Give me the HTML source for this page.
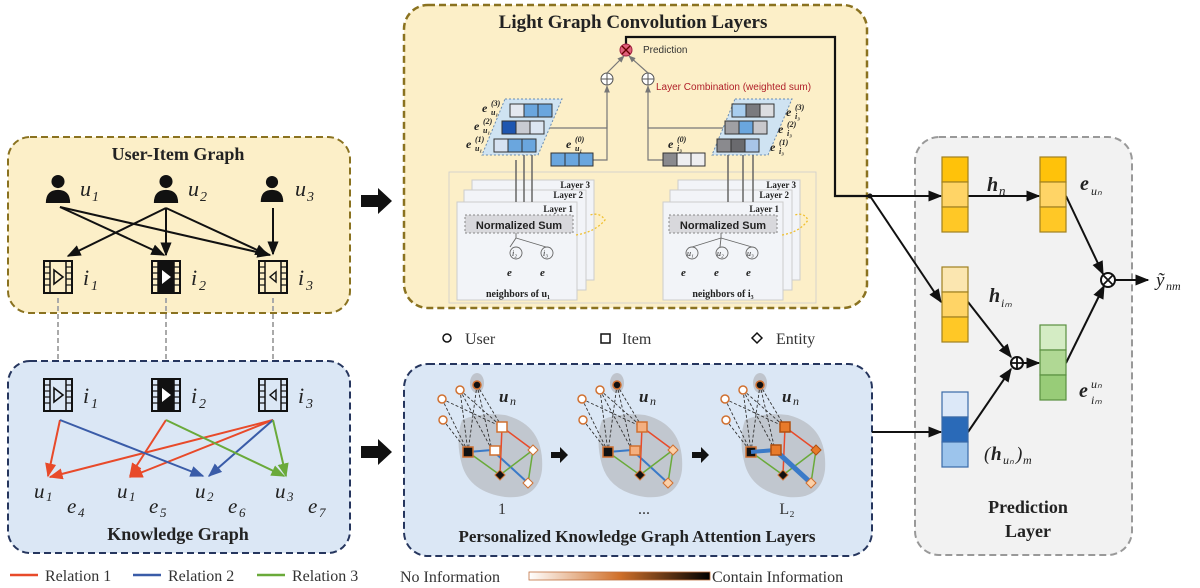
<!DOCTYPE html>
<html><head><meta charset="utf-8"><style>
html,body{margin:0;padding:0;background:#fff}
svg{display:block}
.t{font-family:"Liberation Serif",serif;font-weight:bold;fill:#222}
.m{font-family:"Liberation Serif",serif;font-style:italic;fill:#222}
.s{font-family:"Liberation Sans",sans-serif;fill:#333}
</style></head><body>
<svg width="1200" height="588" viewBox="0 0 1200 588" xmlns="http://www.w3.org/2000/svg">
<defs>
<marker id="ab" viewBox="0 0 10 10" refX="9" refY="5" markerWidth="7" markerHeight="7" orient="auto"><path d="M0,1 L10,5 L0,9 z" fill="#111"/></marker>
<marker id="ar" viewBox="0 0 10 10" refX="9" refY="5" markerWidth="7" markerHeight="7" orient="auto"><path d="M0,1 L10,5 L0,9 z" fill="#e84a2a"/></marker>
<marker id="abl" viewBox="0 0 10 10" refX="9" refY="5" markerWidth="7" markerHeight="7" orient="auto"><path d="M0,1 L10,5 L0,9 z" fill="#3a5ca8"/></marker>
<marker id="ag" viewBox="0 0 10 10" refX="9" refY="5" markerWidth="7" markerHeight="7" orient="auto"><path d="M0,1 L10,5 L0,9 z" fill="#6aaa3a"/></marker>
<marker id="ags" viewBox="0 0 10 10" refX="9" refY="5" markerWidth="6" markerHeight="6" orient="auto"><path d="M0,1 L10,5 L0,9 z" fill="#777"/></marker>
<linearGradient id="gr" x1="0" x2="1"><stop offset="0" stop-color="#fff"/><stop offset="0.5" stop-color="#d0702a"/><stop offset="1" stop-color="#000"/></linearGradient>
<symbol id="film" viewBox="0 0 30 34"><rect x="1" y="1" width="28" height="32" fill="none" stroke="#111" stroke-width="2"/><line x1="7" y1="1" x2="7" y2="33" stroke="#111" stroke-width="1.5"/><line x1="23" y1="1" x2="23" y2="33" stroke="#111" stroke-width="1.5"/><g stroke="#111" stroke-width="1.2"><line x1="1" y1="7" x2="7" y2="7"/><line x1="1" y1="13" x2="7" y2="13"/><line x1="1" y1="19" x2="7" y2="19"/><line x1="1" y1="25" x2="7" y2="25"/><line x1="23" y1="7" x2="29" y2="7"/><line x1="23" y1="13" x2="29" y2="13"/><line x1="23" y1="19" x2="29" y2="19"/><line x1="23" y1="25" x2="29" y2="25"/></g></symbol>
<symbol id="person" viewBox="0 0 30 34"><circle cx="15" cy="9" r="7" fill="#111"/><path d="M2,32 Q2,18 15,18 Q28,18 28,32 z" fill="#111"/></symbol>
<g id="kg">
<path d="M462,420 Q480,412 505,415 Q545,425 542,470 Q538,500 505,497 Q470,492 462,465 Q455,440 462,420z" fill="#b8bcc2" opacity="0.75"/>
<ellipse cx="477" cy="383" rx="7" ry="10" fill="#b8bcc2" opacity="0.8"/>
<g stroke="#333" stroke-dasharray="3,2" stroke-width="0.9" fill="none">
<line x1="477" y1="385" x2="468" y2="452"/><line x1="477" y1="385" x2="492" y2="450"/><line x1="477" y1="385" x2="502" y2="427"/>
<line x1="460" y1="390" x2="492" y2="450"/><line x1="460" y1="390" x2="502" y2="427"/><line x1="442" y1="399" x2="502" y2="427"/>
<line x1="442" y1="399" x2="468" y2="452"/><line x1="443" y1="420" x2="468" y2="452"/><line x1="460" y1="390" x2="468" y2="452"/></g>
<line x1="468" y1="452" x2="492" y2="450" stroke="#3a7ac8" stroke-width="2"/>
<line x1="492" y1="450" x2="528" y2="483" stroke="#3a7ac8" stroke-width="2"/>
<line x1="502" y1="427" x2="500" y2="475" stroke="#e84a2a" stroke-width="1.5"/>
<line x1="502" y1="427" x2="533" y2="450" stroke="#e84a2a" stroke-width="1.5"/>
<line x1="468" y1="452" x2="500" y2="475" stroke="#6aaa3a" stroke-width="1.5"/>
<line x1="500" y1="475" x2="533" y2="450" stroke="#6aaa3a" stroke-width="1.5"/>
<line x1="533" y1="450" x2="528" y2="483" stroke="#6aaa3a" stroke-width="1.5"/>
<circle cx="477" cy="385" r="4" fill="#111" stroke="#d07030" stroke-width="1.5"/>
<g fill="#fff" stroke="#d07030" stroke-width="1.5"><circle cx="460" cy="390" r="4"/><circle cx="442" cy="399" r="4"/><circle cx="443" cy="420" r="4"/></g>
<rect x="463" y="447" width="10" height="10" fill="#111" stroke="#d07030" stroke-width="1.5"/>
<path d="M500,470 L505,475 L500,480 L495,475z" fill="#111" stroke="#d07030"/>
<text x="499" y="402" class="m" font-weight="bold" font-size="17">u</text><text x="510" y="405" class="m" font-size="12">n</text>
</g>
</defs>

<!-- User-Item Graph -->
<rect x="8" y="137" width="342" height="176" rx="22" fill="#fcefc8" stroke="#8a7220" stroke-width="2" stroke-dasharray="7,4"/>
<text x="178" y="160" class="t" font-size="18" text-anchor="middle">User-Item Graph</text>
<use href="#person" x="44" y="173" width="28" height="32"/>
<use href="#person" x="152" y="173" width="28" height="32"/>
<use href="#person" x="259" y="173" width="26" height="32"/>
<text x="80" y="196" class="m" font-size="22">u</text><text x="92" y="201" class="m" font-size="14">1</text>
<text x="188" y="196" class="m" font-size="22">u</text><text x="200" y="201" class="m" font-size="14">2</text>
<text x="295" y="196" class="m" font-size="22">u</text><text x="307" y="201" class="m" font-size="14">3</text>
<g stroke="#111" stroke-width="2" fill="none" marker-end="url(#ab)">
<line x1="60" y1="207" x2="164" y2="255"/><line x1="60" y1="207" x2="270" y2="255"/>
<line x1="166" y1="208" x2="68" y2="256"/><line x1="166" y1="208" x2="166" y2="255"/><line x1="166" y1="208" x2="268" y2="255"/>
<line x1="273" y1="208" x2="273" y2="254"/></g>
<use href="#film" x="43" y="260" width="30" height="34"/><path d="M54,270 L63,277 L54,284z" fill="none" stroke="#111" stroke-width="1.6"/>
<use href="#film" x="151" y="260" width="30" height="34"/><rect x="158" y="261" width="16" height="32" fill="#111"/><path d="M162,270 L171,277 L162,284z" fill="#fff"/>
<use href="#film" x="258" y="260" width="30" height="34"/><path d="M276,272 L270,277 L276,282z" fill="none" stroke="#111" stroke-width="1.4"/>
<text x="83" y="285" class="m" font-size="22">i</text><text x="91" y="290" class="m" font-size="14">1</text>
<text x="191" y="285" class="m" font-size="22">i</text><text x="199" y="290" class="m" font-size="14">2</text>
<text x="298" y="285" class="m" font-size="22">i</text><text x="306" y="290" class="m" font-size="14">3</text>
<g stroke="#aaa" stroke-width="2" stroke-dasharray="5,3"><line x1="58" y1="298" x2="58" y2="374"/><line x1="166" y1="298" x2="166" y2="374"/><line x1="273" y1="298" x2="273" y2="374"/></g>

<!-- Knowledge Graph -->
<rect x="8" y="361" width="342" height="192" rx="22" fill="#dbe7f5" stroke="#26365e" stroke-width="2" stroke-dasharray="7,4"/>
<use href="#film" x="43" y="378" width="30" height="34"/><path d="M54,388 L63,395 L54,402z" fill="none" stroke="#111" stroke-width="1.6"/>
<use href="#film" x="151" y="378" width="30" height="34"/><rect x="158" y="379" width="16" height="32" fill="#111"/><path d="M162,388 L171,395 L162,402z" fill="#fff"/>
<use href="#film" x="258" y="378" width="30" height="34"/><path d="M276,390 L270,395 L276,400z" fill="none" stroke="#111" stroke-width="1.4"/>
<text x="83" y="403" class="m" font-size="22">i</text><text x="91" y="408" class="m" font-size="14">1</text>
<text x="191" y="403" class="m" font-size="22">i</text><text x="199" y="408" class="m" font-size="14">2</text>
<text x="298" y="403" class="m" font-size="22">i</text><text x="306" y="408" class="m" font-size="14">3</text>
<g stroke-width="2" fill="none">
<line x1="60" y1="420" x2="48" y2="476" stroke="#e84a2a" marker-end="url(#ar)"/>
<line x1="166" y1="420" x2="130" y2="476" stroke="#e84a2a" marker-end="url(#ar)"/>
<line x1="273" y1="420" x2="50" y2="477" stroke="#e84a2a" marker-end="url(#ar)"/>
<line x1="273" y1="420" x2="130" y2="477" stroke="#e84a2a" marker-end="url(#ar)"/>
<line x1="60" y1="420" x2="203" y2="476" stroke="#3a5ca8" marker-end="url(#abl)"/>
<line x1="273" y1="420" x2="209" y2="476" stroke="#3a5ca8" marker-end="url(#abl)"/>
<line x1="166" y1="420" x2="284" y2="476" stroke="#6aaa3a" marker-end="url(#ag)"/>
<line x1="273" y1="420" x2="286" y2="476" stroke="#6aaa3a" marker-end="url(#ag)"/>
</g>
<g class="m" font-size="21">
<text x="34" y="498">u</text><text x="46" y="501" font-size="13">1</text>
<text x="67" y="513">e</text><text x="78" y="517" font-size="13">4</text>
<text x="117" y="498">u</text><text x="129" y="501" font-size="13">1</text>
<text x="149" y="513">e</text><text x="160" y="517" font-size="13">5</text>
<text x="195" y="498">u</text><text x="207" y="501" font-size="13">2</text>
<text x="228" y="513">e</text><text x="239" y="517" font-size="13">6</text>
<text x="275" y="498">u</text><text x="287" y="501" font-size="13">3</text>
<text x="308" y="513">e</text><text x="319" y="517" font-size="13">7</text></g>
<text x="178" y="540" class="t" font-size="18" text-anchor="middle">Knowledge Graph</text>
<!-- relation legend -->
<line x1="10" y1="575" x2="38" y2="575" stroke="#e84a2a" stroke-width="2.5"/><text x="45" y="581" font-family="Liberation Serif,serif" font-size="16" fill="#333">Relation 1</text>
<line x1="133" y1="575" x2="161" y2="575" stroke="#3a5ca8" stroke-width="2.5"/><text x="168" y="581" font-family="Liberation Serif,serif" font-size="16" fill="#333">Relation 2</text>
<line x1="257" y1="575" x2="285" y2="575" stroke="#6aaa3a" stroke-width="2.5"/><text x="292" y="581" font-family="Liberation Serif,serif" font-size="16" fill="#333">Relation 3</text>

<!-- big arrows -->
<path d="M361,195 L378,195 L378,188 L392,201 L378,214 L378,207 L361,207z" fill="#111"/>
<path d="M361,446 L378,446 L378,439 L392,452 L378,465 L378,458 L361,458z" fill="#111"/>

<!-- Light Graph Convolution -->
<rect x="404" y="5" width="463" height="303" rx="24" fill="#fcefc8" stroke="#8a7220" stroke-width="2.5" stroke-dasharray="7,4"/>
<text x="633" y="28" class="t" font-size="19" text-anchor="middle">Light Graph Convolution Layers</text>
<polyline points="626,44 626,37 835,37 835,196 870,196" fill="none" stroke="#111" stroke-width="2.2"/>
<circle cx="870" cy="196" r="2.5" fill="#111"/>
<circle cx="626" cy="50" r="6" fill="#e0607a" stroke="#a02040"/><path d="M622,46 L630,54 M630,46 L622,54" stroke="#600" stroke-width="1.3"/>
<text x="643" y="53" class="s" font-size="10">Prediction</text>
<g fill="#fff" stroke="#555" stroke-width="1"><circle cx="607" cy="79" r="6"/><circle cx="648" cy="79" r="6"/></g>
<path d="M601,79 H613 M607,73 V85 M642,79 H654 M648,73 V85" stroke="#555"/>
<g stroke="#777" stroke-width="1.2" fill="none"><line x1="607" y1="73" x2="624" y2="56" marker-end="url(#ags)"/><line x1="648" y1="73" x2="629" y2="56" marker-end="url(#ags)"/>
<polyline points="545,128 607,128 607,86" marker-end="url(#ags)"/><polyline points="593,160 607,160 607,120"/>
<polyline points="724,128 648,128 648,86" marker-end="url(#ags)"/><polyline points="663,160 648,160 648,120"/></g>
<text x="656" y="90" class="s" font-size="10" fill="#b0202a" style="fill:#b0202a">Layer Combination (weighted sum)</text>
<!-- parallelograms -->
<path d="M505,99 L562,99 L538,155 L482,155z" fill="#cfe3f2" stroke="#6a8cb0" stroke-dasharray="2,2"/>
<path d="M735,99 L792,99 L768,155 L712,155z" fill="#cfe3f2" stroke="#6a8cb0" stroke-dasharray="2,2"/>
<g stroke="#333" stroke-width="1">
<rect x="510" y="104" width="14" height="13" fill="#e4e8f0"/><rect x="524" y="104" width="14" height="13" fill="#6aa6de"/><rect x="538" y="104" width="14" height="13" fill="#6aa6de"/>
<rect x="502" y="121" width="14" height="13" fill="#1e56b0"/><rect x="516" y="121" width="14" height="13" fill="#c8cbd2"/><rect x="530" y="121" width="14" height="13" fill="#dce6f2"/>
<rect x="494" y="139" width="14" height="13" fill="#d6e2f2"/><rect x="508" y="139" width="14" height="13" fill="#6aa6de"/><rect x="522" y="139" width="14" height="13" fill="#6aa6de"/>
<rect x="551" y="153" width="14" height="13" fill="#6aa6de"/><rect x="565" y="153" width="14" height="13" fill="#6aa6de"/><rect x="579" y="153" width="14" height="13" fill="#6aa6de"/>
<rect x="663" y="153" width="14" height="13" fill="#8a8a8e"/><rect x="677" y="153" width="14" height="13" fill="#eeeef0"/><rect x="691" y="153" width="14" height="13" fill="#eeeef0"/>
<rect x="732" y="104" width="14" height="13" fill="#a8cdee"/><rect x="746" y="104" width="14" height="13" fill="#7a7a7e"/><rect x="760" y="104" width="14" height="13" fill="#dcdde0"/>
<rect x="725" y="121" width="14" height="13" fill="#a0a0a4"/><rect x="739" y="121" width="14" height="13" fill="#6aa6de"/><rect x="753" y="121" width="14" height="13" fill="#c8c8cc"/>
<rect x="717" y="139" width="14" height="13" fill="#8a8a8e"/><rect x="731" y="139" width="14" height="13" fill="#6a6a6e"/><rect x="745" y="139" width="14" height="13" fill="#a8c4e8"/></g>
<g class="m" font-weight="bold" font-size="12">
<text x="482" y="112">e</text><text x="491" y="115" font-size="8">u₁</text><text x="491" y="106" font-size="8">(3)</text>
<text x="474" y="130">e</text><text x="483" y="133" font-size="8">u₁</text><text x="483" y="124" font-size="8">(2)</text>
<text x="466" y="148">e</text><text x="475" y="151" font-size="8">u₁</text><text x="475" y="142" font-size="8">(1)</text>
<text x="566" y="148">e</text><text x="575" y="151" font-size="8">u₁</text><text x="575" y="142" font-size="8">(0)</text>
<text x="668" y="148">e</text><text x="677" y="151" font-size="8">i₃</text><text x="677" y="142" font-size="8">(0)</text>
<text x="786" y="116">e</text><text x="795" y="119" font-size="8">i₃</text><text x="795" y="110" font-size="8">(3)</text>
<text x="778" y="133">e</text><text x="787" y="136" font-size="8">i₃</text><text x="787" y="127" font-size="8">(2)</text>
<text x="770" y="151">e</text><text x="779" y="154" font-size="8">i₃</text><text x="779" y="145" font-size="8">(1)</text></g>
<rect x="449" y="172" width="367" height="131" fill="none" stroke="#ccc" stroke-width="0.8"/>
<!-- stacked cards -->
<g stroke="#ccc" stroke-width="1" fill="#f2f4f8">
<rect x="472" y="180" width="122" height="100"/><rect x="464" y="190" width="122" height="100"/><rect x="457" y="202" width="120" height="98"/>
<rect x="678" y="180" width="122" height="100"/><rect x="670" y="190" width="122" height="100"/><rect x="663" y="202" width="120" height="98"/></g>
<g class="t" font-size="9"><text x="590" y="188" text-anchor="end">Layer 3</text><text x="583" y="198" text-anchor="end">Layer 2</text><text x="573" y="212" text-anchor="end">Layer 1</text>
<text x="796" y="188" text-anchor="end">Layer 3</text><text x="789" y="198" text-anchor="end">Layer 2</text><text x="779" y="212" text-anchor="end">Layer 1</text></g>
<rect x="465" y="215" width="108" height="18" fill="#d8d8dc" stroke="#888" stroke-dasharray="2,2"/>
<rect x="669" y="215" width="108" height="18" fill="#d8d8dc" stroke="#888" stroke-dasharray="2,2"/>
<text x="519" y="229" font-family="Liberation Sans,sans-serif" font-weight="bold" font-size="11" fill="#222" text-anchor="middle">Normalized Sum</text>
<text x="723" y="229" font-family="Liberation Sans,sans-serif" font-weight="bold" font-size="11" fill="#222" text-anchor="middle">Normalized Sum</text>
<g stroke="#666" stroke-width="1.5"><line x1="516" y1="202" x2="516" y2="160"/><line x1="524" y1="202" x2="524" y2="155"/><line x1="532" y1="202" x2="532" y2="155"/>
<line x1="728" y1="202" x2="728" y2="155"/><line x1="743" y1="202" x2="743" y2="155"/><line x1="753" y1="202" x2="753" y2="155"/></g>
<g stroke="#666" fill="none" stroke-width="0.9">
<line x1="516" y1="238" x2="516" y2="233"/><line x1="516" y1="238" x2="510" y2="247"/><line x1="516" y1="238" x2="546" y2="247"/>
<line x1="721" y1="238" x2="721" y2="233"/><line x1="721" y1="238" x2="692" y2="247"/><line x1="721" y1="238" x2="720" y2="247"/><line x1="721" y1="238" x2="752" y2="247"/>
<circle cx="516" cy="253" r="6"/><circle cx="547" cy="253" r="6"/><circle cx="692" cy="253" r="6"/><circle cx="722" cy="253" r="6"/><circle cx="752" cy="253" r="6"/></g>
<g class="m" font-size="8"><text x="512" y="256">i₂</text><text x="543" y="256">i₃</text><text x="687" y="256">u₁</text><text x="717" y="256">u₂</text><text x="747" y="256">u₃</text>
<text x="507" y="276" font-weight="bold" font-size="11">e</text><text x="540" y="276" font-weight="bold" font-size="11">e</text>
<text x="681" y="276" font-weight="bold" font-size="11">e</text><text x="714" y="276" font-weight="bold" font-size="11">e</text><text x="746" y="276" font-weight="bold" font-size="11">e</text></g>
<text x="518" y="297" class="t" font-size="10" text-anchor="middle">neighbors of u₁</text>
<text x="723" y="297" class="t" font-size="10" text-anchor="middle">neighbors of i₃</text>
<g stroke="#f0c030" stroke-dasharray="2,2" fill="none" stroke-width="1.3"><path d="M576,235 Q595,232 605,220 Q600,212 590,215"/><path d="M782,235 Q800,232 808,220 Q804,212 795,215"/></g>

<!-- User/Item/Entity legend -->
<circle cx="447" cy="338" r="4" fill="none" stroke="#111" stroke-width="1.5"/><text x="465" y="344" font-family="Liberation Serif,serif" font-size="16" fill="#333">User</text>
<rect x="601" y="334" width="9" height="9" fill="none" stroke="#111" stroke-width="1.5"/><text x="622" y="344" font-family="Liberation Serif,serif" font-size="16" fill="#333">Item</text>
<path d="M757,333 L762,338 L757,343 L752,338z" fill="none" stroke="#111" stroke-width="1.5"/><text x="776" y="344" font-family="Liberation Serif,serif" font-size="16" fill="#333">Entity</text>

<!-- PKGAL -->
<rect x="404" y="364" width="468" height="192" rx="24" fill="#dbe7f5" stroke="#26365e" stroke-width="2" stroke-dasharray="7,4"/>
<use href="#kg"/>
<use href="#kg" x="140"/>
<use href="#kg" x="283"/>
<rect x="490" y="446" width="10" height="9" fill="#fff" stroke="#d07030" stroke-width="1.5"/><rect x="497" y="422" width="10" height="10" fill="#fff" stroke="#d07030" stroke-width="1.5"/>
<path d="M533,445 L538,450 L533,455 L528,450z M528,478 L533,483 L528,488 L523,483z" fill="#fff" stroke="#d07030"/>
<rect x="630" y="446" width="10" height="9" fill="#f4b080" stroke="#d07030" stroke-width="1.5"/><rect x="637" y="422" width="10" height="10" fill="#f4b080" stroke="#d07030" stroke-width="1.5"/>
<path d="M673,445 L678,450 L673,455 L668,450z M668,478 L673,483 L668,488 L663,483z" fill="#fbd0a8" stroke="#d07030"/>
<line x1="775" y1="450" x2="811" y2="483" stroke="#3a7ac8" stroke-width="5"/><line x1="751" y1="452" x2="775" y2="450" stroke="#3a7ac8" stroke-width="4"/>
<rect x="771" y="445" width="10" height="10" fill="#e87a2a" stroke="#b05010" stroke-width="1.5"/><rect x="780" y="422" width="10" height="10" fill="#e87a2a" stroke="#b05010" stroke-width="1.5"/>
<path d="M816,445 L821,450 L816,455 L811,450z" fill="#e87a2a" stroke="#b05010"/><path d="M811,478 L816,483 L811,488 L806,483z" fill="#fbd0a8" stroke="#d07030"/>
<path d="M551,452 H560 V447 L568,455 L560,463 V458 H551z" fill="#111"/>
<path d="M692,452 H701 V447 L709,455 L701,463 V458 H692z" fill="#111"/>
<text x="502" y="514" font-family="Liberation Serif,serif" font-size="16" fill="#333" text-anchor="middle">1</text>
<text x="644" y="514" font-family="Liberation Serif,serif" font-size="16" fill="#333" text-anchor="middle">...</text>
<text x="787" y="514" font-family="Liberation Serif,serif" font-size="16" fill="#333" text-anchor="middle">L₂</text>
<text x="637" y="542" class="t" font-size="17" text-anchor="middle">Personalized Knowledge Graph Attention Layers</text>
<text x="400" y="582" font-family="Liberation Serif,serif" font-size="16" fill="#333">No Information</text>
<rect x="529" y="572" width="181" height="8" fill="url(#gr)" stroke="#c07040" stroke-width="0.8"/>
<text x="712" y="582" font-family="Liberation Serif,serif" font-size="16" fill="#333">Contain Information</text>

<!-- Prediction Layer -->
<rect x="915" y="137" width="217" height="418" rx="24" fill="#f2f2f2" stroke="#999" stroke-width="2" stroke-dasharray="7,4"/>
<g stroke="#111" stroke-width="2" fill="none" marker-end="url(#ab)">
<line x1="870" y1="196" x2="941" y2="196"/><line x1="870" y1="196" x2="941" y2="302"/>
<line x1="872" y1="432" x2="941" y2="432"/>
<line x1="968" y1="196" x2="1039" y2="196"/>
<line x1="1066" y1="196" x2="1103" y2="274"/>
<line x1="1066" y1="363" x2="1104" y2="286"/>
<line x1="968" y1="302" x2="1011" y2="357"/>
<line x1="968" y1="432" x2="1011" y2="369"/>
<line x1="1023" y1="363" x2="1039" y2="363"/>
<line x1="1114" y1="280" x2="1148" y2="280"/></g>
<g stroke="#a08020" stroke-width="1.2">
<rect x="942" y="157" width="26" height="25" fill="#ffc20a"/><rect x="942" y="182" width="26" height="25" fill="#ffd466"/><rect x="942" y="207" width="26" height="25" fill="#ffc826"/>
<rect x="1040" y="157" width="26" height="25" fill="#ffc20a"/><rect x="1040" y="182" width="26" height="25" fill="#ffd466"/><rect x="1040" y="207" width="26" height="25" fill="#ffc826"/>
<rect x="942" y="267" width="26" height="25" fill="#fbe6b0"/><rect x="942" y="292" width="26" height="25" fill="#ffd466"/><rect x="942" y="317" width="26" height="25" fill="#ffc826"/></g>
<g stroke="#5a9040" stroke-width="1.2"><rect x="1040" y="325" width="26" height="25" fill="#d4ecc4"/><rect x="1040" y="350" width="26" height="25" fill="#b0d894"/><rect x="1040" y="375" width="26" height="25" fill="#98cc78"/></g>
<g stroke="#3a6aa8" stroke-width="1.2"><rect x="942" y="392" width="26" height="25" fill="#dce8f8"/><rect x="942" y="417" width="26" height="25" fill="#2a6ab8"/><rect x="942" y="442" width="26" height="25" fill="#9cc4ec"/></g>
<circle cx="1017" cy="363" r="6" fill="#fff" stroke="#111" stroke-width="2"/><path d="M1011,363 H1023 M1017,357 V369" stroke="#111" stroke-width="1.8"/>
<circle cx="1108" cy="280" r="7" fill="#fff" stroke="#111" stroke-width="2"/><path d="M1103,275 L1113,285 M1113,275 L1103,285" stroke="#111" stroke-width="1.8"/>
<g class="m" font-weight="bold"><text x="987" y="191" font-size="20">h</text><text x="999" y="195" font-size="13" font-weight="normal">n</text>
<text x="1080" y="190" font-size="20">e</text><text x="1091" y="195" font-size="12" font-weight="normal">uₙ</text>
<text x="989" y="302" font-size="20">h</text><text x="1001" y="307" font-size="12" font-weight="normal">iₘ</text>
<text x="1079" y="397" font-size="20">e</text><text x="1091" y="388" font-size="12" font-weight="normal">uₙ</text><text x="1091" y="404" font-size="12" font-weight="normal">iₘ</text>
<text x="984" y="460" font-size="19" font-weight="normal">(</text><text x="991" y="460" font-size="19">h</text><text x="1003" y="464" font-size="12" font-weight="normal">uₙ</text><text x="1016" y="460" font-size="19" font-weight="normal">)</text><text x="1023" y="464" font-size="12" font-weight="normal">m</text>
<text x="1156" y="286" font-size="19" font-weight="normal">ỹ</text><text x="1166" y="290" font-size="12" font-weight="normal">nm</text></g>
<text x="1028" y="513" class="t" font-size="18" text-anchor="middle">Prediction</text>
<text x="1028" y="537" class="t" font-size="18" text-anchor="middle">Layer</text>
</svg>
</body></html>
